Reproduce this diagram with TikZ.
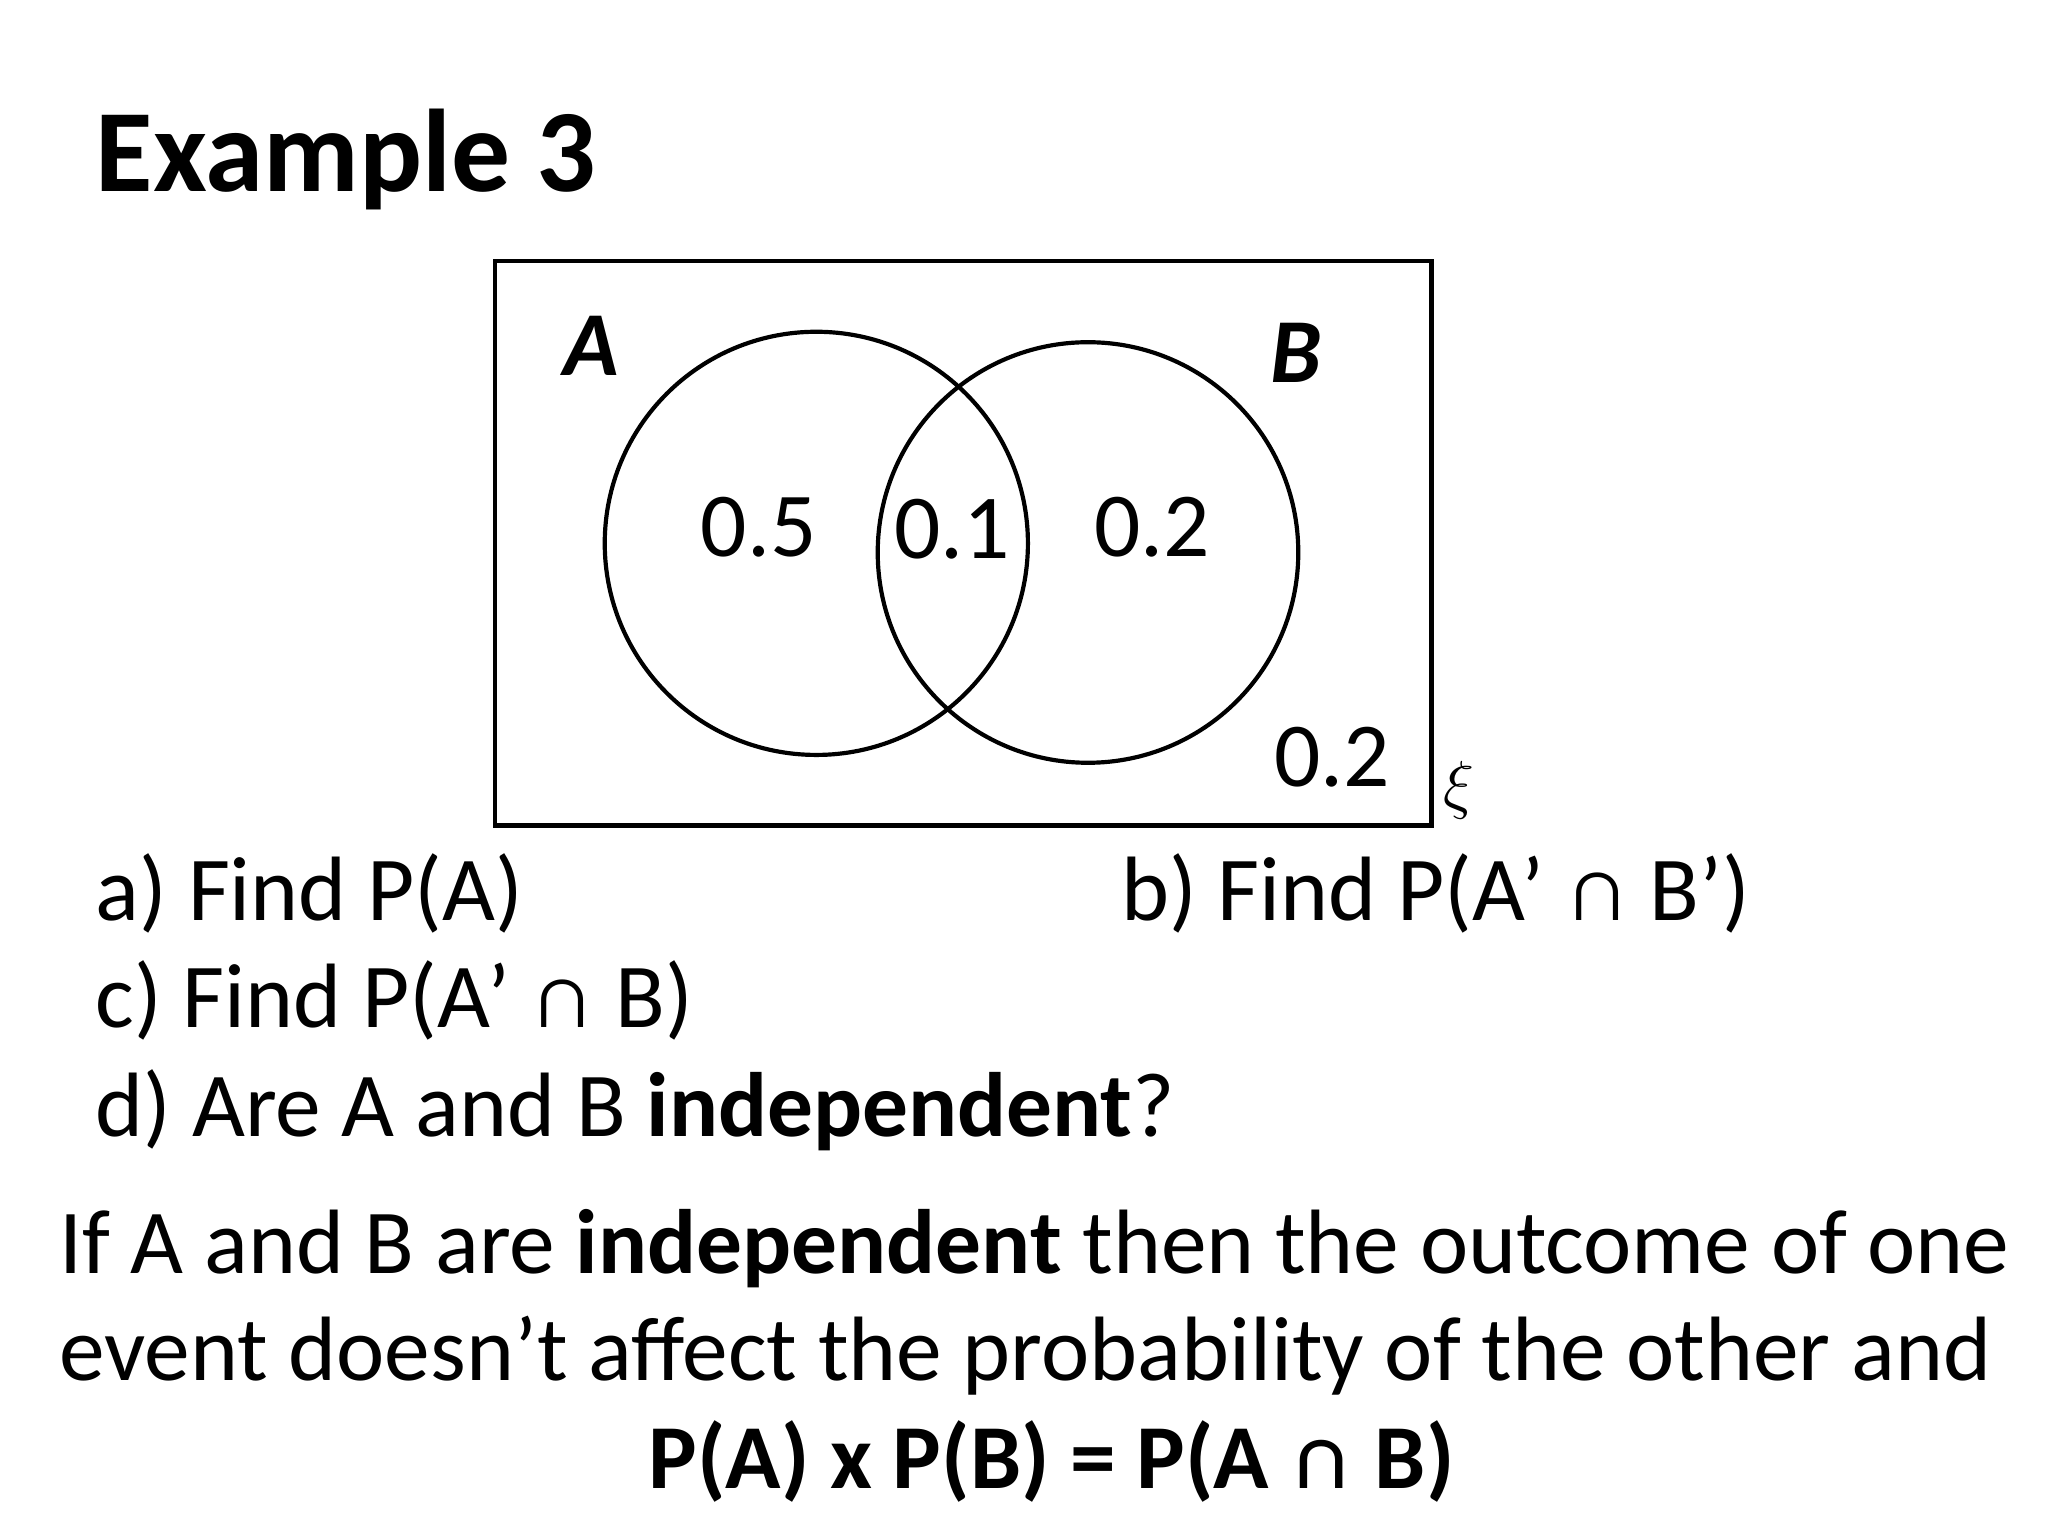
\documentclass[tikz,border=0pt]{standalone}
\usepackage{fontspec}
\setmainfont{Carlito}
\begin{document}
\begin{tikzpicture}[x=0.5pt,y=-0.5pt,
  body/.style={font=\fontsize{35}{42}\selectfont,inner sep=0pt},
  ln/.style={line width=1.6pt}]
\useasboundingbox (0,0) rectangle (1568,1176);
\node[anchor=base west,inner sep=0pt,font=\fontsize{45}{54}\selectfont\bfseries] (title) at (73,147) {Example 3};
\draw[ln] (379,200) rectangle (1096,632);
\node[draw,circle,ln,minimum size=324pt*0.5,inner sep=0pt] (ca) at (625,416) {};
\node[draw,circle,ln,minimum size=322pt*0.5,inner sep=0pt] (cb) at (833,423) {};
\node[body,font=\fontsize{35}{42}\selectfont\bfseries\itshape] (la) at (453,265) {A};
\node[body,font=\fontsize{35}{42}\selectfont\bfseries\itshape] (lb) at (992,270) {B};
\node[body] (n1) at (581,404) {0.5};
\node[body] (n2) at (729,405) {0.1};
\node[body] (n3) at (882,404) {0.2};
\node[body] (n4) at (1020,580) {0.2};
\node[body] (xi) at (1117,605) {$\xi$};
\node[body,anchor=base west] (qa) at (73,705) {a) Find P(A)};
\node[body,anchor=base west] (qb) at (858,705) {b) Find P(A’ ∩ B’)};
\node[body,anchor=base west] (qc) at (73,787) {c) Find P(A’ ∩ B)};
\node[body,anchor=base west] (qd) at (73,870) {d) Are A and B \textbf{independent}?};
\node[body,anchor=base] (p1) at (792,975) {If A and B are \textbf{independent} then the outcome of one};
\node[body,anchor=base] (p2) at (785,1057) {event doesn’t affect the probability of the other and};
\node[body,anchor=base] (p3) at (805,1140) {\textbf{P(A) x P(B) = P(A ∩ B)}};
\end{tikzpicture}
\end{document}
